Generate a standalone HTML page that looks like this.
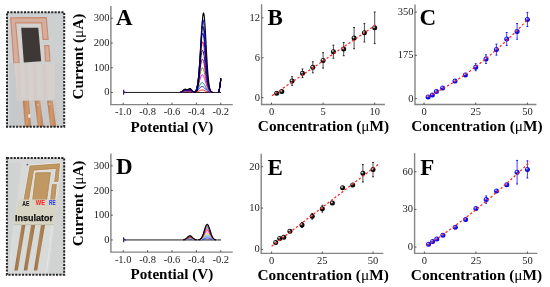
<!DOCTYPE html>
<html><head><meta charset="utf-8"><style>
html,body{margin:0;padding:0;background:#fff;width:550px;height:287px;overflow:hidden}
svg{display:block}
.tk{font-family:"Liberation Serif",serif;font-size:10.5px;fill:#222}
.ti{font-family:"Liberation Serif",serif;font-size:15px;font-weight:bold;fill:#000}
.lt{font-family:"Liberation Serif",serif;font-size:23px;font-weight:bold;fill:#000}
</style></head><body>
<svg width="550" height="287" viewBox="0 0 550 287">
<defs>
<radialGradient id="gk" cx="0.42" cy="0.42" r="0.58" fx="0.36" fy="0.34"><stop offset="0" stop-color="#ffffff"/><stop offset="0.22" stop-color="#a0a0a0"/><stop offset="0.45" stop-color="#181818"/><stop offset="1" stop-color="#000"/></radialGradient>
<radialGradient id="gb" cx="0.42" cy="0.42" r="0.58" fx="0.36" fy="0.34"><stop offset="0" stop-color="#ffffff"/><stop offset="0.2" stop-color="#8888ff"/><stop offset="0.45" stop-color="#1a1aff"/><stop offset="1" stop-color="#0000d8"/></radialGradient>
<linearGradient id="lead1" x1="0" y1="0" x2="1" y2="0"><stop offset="0" stop-color="#b67a52"/><stop offset="0.5" stop-color="#d29a70"/><stop offset="1" stop-color="#b97d55"/></linearGradient>
<linearGradient id="lead2" x1="0" y1="0" x2="1" y2="0"><stop offset="0" stop-color="#977046"/><stop offset="0.5" stop-color="#b28656"/><stop offset="1" stop-color="#9a7248"/></linearGradient>
<filter id="bl" x="-5%" y="-5%" width="110%" height="110%"><feGaussianBlur stdDeviation="0.75"/></filter>
</defs>
<g>
<rect x="7" y="12.3" width="57.2" height="114.4" fill="#c6c8c9"/>
<g filter="url(#bl)">
<polygon points="8,13 64,13 64,63 8,63" fill="#cdd0d0"/>
<polygon points="55,63 64,63 64,126 57,126" fill="#caccce"/>
<polygon points="8,13 9.5,13 9.5,126 8,126" fill="#d6d9da"/>
<polygon points="16,23 42,23 44,62 18,63" fill="#d3d2ce"/>
<polygon points="10.7,17.9 46.3,17.7 48.1,39.3 43.0,39.3 41.6,22.8 15.6,22.8 19.2,63 13.8,63" fill="#d6ae9f" stroke="#c98a6e" stroke-width="1.15"/>
<polygon points="44.8,45.6 48.8,45.6 50,61 45.4,61" fill="#d6ae9f" stroke="#c98a6e" stroke-width="1.15"/>
<polygon points="21.2,27.8 38.3,27.7 41.2,61.3 23.8,62.4" fill="#3c3936"/>
<polygon points="14.2,63.3 55.4,63.1 55.4,99.4 17.3,101.5" fill="#d4d0cd"/>
<polygon points="16.599999999999998,64 19.799999999999997,64 21.0,100 17.8,100" fill="#d6c6c0" opacity="0.6"/>
<polygon points="24.4,64 27.4,64 28.6,100 25.6,100" fill="#d6c6c0" opacity="0.6"/>
<polygon points="32.6,64 35.8,64 37.0,100 33.800000000000004,100" fill="#d6c6c0" opacity="0.6"/>
<polygon points="42.0,64 46.0,64 47.2,100 43.2,100" fill="#d6c6c0" opacity="0.6"/>
<polygon points="22.8,100.8 29,100.4 31.1,127 24.9,127" fill="url(#lead1)"/>
<polygon points="34.6,100.8 40.1,100.4 43.7,127 37.7,127" fill="url(#lead1)"/>
<polygon points="47.1,100.8 52.7,100.4 56.2,127 50.3,127" fill="url(#lead1)"/>
<ellipse cx="29.4" cy="116" rx="1.4" ry="2" fill="#eee4d8"/>
<circle cx="38" cy="105" r="1" fill="#e0b898"/>
<circle cx="49.5" cy="104" r="1" fill="#e0b898"/>
</g>
<rect x="7" y="12.3" width="57.2" height="114.4" fill="none" stroke="#262626" stroke-width="2" stroke-dasharray="2.1,1.3"/>
</g>
<g>
<rect x="7" y="158.2" width="58" height="116.8" fill="#d0d3d2"/>
<g filter="url(#bl)">
<polygon points="22,158 63,158 48.5,275 8.5,275" fill="#d8dad9"/>
<line x1="52.3" y1="224" x2="46.6" y2="272" stroke="#e4e6e6" stroke-width="1"/>
<line x1="14.3" y1="224" x2="9" y2="272" stroke="#e0e2e2" stroke-width="0.8"/>
<polygon points="7,158 65,158 65,163 7,163" fill="#d6d8d8"/>
<polygon points="30.0,166.0 59.6,163.8 58.0,181.5 54.6,181.5 56.3,168.4 33.6,170.2 28.6,200 24.0,200" fill="#c09862" stroke="#e9e6e4" stroke-width="2.4" stroke-linejoin="round"/>
<polygon points="52.3,184.4 56.4,184.4 54.8,199.6 50.6,199.6" fill="#c09862" stroke="#e9e6e4" stroke-width="2.4" stroke-linejoin="round"/>
<polygon points="35.8,172.8 50.5,172.6 46.8,199.6 32.6,199.8" fill="#c09862" stroke="#e9e6e4" stroke-width="2.4" stroke-linejoin="round"/>
<polygon points="30.0,166.0 59.6,163.8 58.0,181.5 54.6,181.5 56.3,168.4 33.6,170.2 28.6,200 24.0,200" fill="#c09862" stroke="#a88048" stroke-width="0.7"/>
<polygon points="52.3,184.4 56.4,184.4 54.8,199.6 50.6,199.6" fill="#c09862" stroke="#a88048" stroke-width="0.7"/>
<polygon points="35.8,172.8 50.5,172.6 46.8,199.6 32.6,199.8" fill="#c09862" stroke="#a88048" stroke-width="0.7"/>
<polygon points="18.3,199.6 58.2,199.6 54,224.6 14.1,224.6" fill="#d7d4c4"/>
<circle cx="27.4" cy="164.7" r="0.9" fill="#6a6666"/>
<line x1="14.1" y1="224.6" x2="54" y2="224.6" stroke="#bdb9a8" stroke-width="0.8"/>
<polygon points="21.6,225 25.4,225 17.9,270.6 14.3,270.6" fill="url(#lead2)"/>
<polygon points="31,225 35.2,225 27.3,270.6 23.7,270.6" fill="url(#lead2)"/>
<polygon points="40.9,225 45,225 37.3,270.6 33.8,270.6" fill="url(#lead2)"/>
</g>
<text x="22.3" y="205.7" style="font-family:'Liberation Sans',sans-serif;font-weight:bold;font-size:6.6px" textLength="7.2" lengthAdjust="spacingAndGlyphs" fill="#151515">AE</text>
<text x="35.7" y="205.3" style="font-family:'Liberation Sans',sans-serif;font-weight:bold;font-size:6.6px" textLength="9.3" lengthAdjust="spacingAndGlyphs" fill="#ff1a1a">WE</text>
<text x="48.9" y="204.6" style="font-family:'Liberation Sans',sans-serif;font-weight:bold;font-size:6.6px" textLength="6.8" lengthAdjust="spacingAndGlyphs" fill="#2233ff">RE</text>
<text x="15.1" y="220.9" style="font-family:'Liberation Sans',sans-serif;font-weight:bold;font-size:9px" fill="#111" stroke="#111" stroke-width="0.25" textLength="38" lengthAdjust="spacingAndGlyphs">Insulator</text>
<rect x="6.9" y="158" width="57.3" height="116.8" fill="none" stroke="#262626" stroke-width="2" stroke-dasharray="2.1,1.3"/>
</g>
<line x1="124.0" y1="92.45" x2="221" y2="92.45" stroke="#1a1a1a" stroke-width="1.0"/>
<path d="M123.6,89.85000000000001 L123.6,94.65 M123.6,91.45 L126,92.75" stroke="#3a1a8a" stroke-width="1.2" fill="none"/>
<polyline points="181.6,92.28 182.0,92.21 182.4,92.13 182.8,92.04 183.2,91.95 183.6,91.87 184.0,91.79 184.4,91.74 184.8,91.70 185.2,91.69 185.6,91.70 186.0,91.73 186.4,91.77 186.8,91.80 187.2,91.82 187.6,91.83 188.0,91.81 188.4,91.78 188.8,91.73 189.2,91.70 189.6,91.67 190.0,91.67 190.4,91.70 190.8,91.76 191.2,91.84 191.6,91.94 192.0,92.03 192.4,92.12 192.8,92.20 193.2,92.25" fill="none" stroke="#ff0000" stroke-width="0.95" stroke-linejoin="round"/>
<polyline points="194.8,92.26 195.2,92.22 195.6,92.15 196.0,92.07 196.4,91.97 196.8,91.84 197.2,91.70 197.6,91.55 198.0,91.37 198.4,91.19 198.8,91.00 199.2,90.81 199.6,90.62 200.0,90.44 200.4,90.29 200.8,90.16 201.2,90.06 201.6,90.00 202.0,89.98 202.4,90.00 202.8,90.05 203.2,90.13 203.6,90.24 204.0,90.38 204.4,90.54 204.8,90.71 205.2,90.88 205.6,91.06 206.0,91.24 206.4,91.41 206.8,91.57 207.2,91.71 207.6,91.84 208.0,91.95 208.4,92.05 208.8,92.14 209.2,92.21 209.6,92.26" fill="none" stroke="#ff0000" stroke-width="0.95" stroke-linejoin="round"/>
<polyline points="218.4,92.33 218.8,91.57 219.2,90.24 219.6,88.39 220.0,86.07 220.4,83.30 220.8,80.09" fill="none" stroke="#ff0000" stroke-width="0.95" stroke-linejoin="round"/>
<polyline points="181.2,92.29 181.6,92.22 182.0,92.14 182.4,92.03 182.8,91.92 183.2,91.80 183.6,91.69 184.0,91.59 184.4,91.52 184.8,91.47 185.2,91.46 185.6,91.48 186.0,91.51 186.4,91.56 186.8,91.60 187.2,91.62 187.6,91.62 188.0,91.59 188.4,91.54 188.8,91.48 189.2,91.43 189.6,91.39 190.0,91.39 190.4,91.43 190.8,91.51 191.2,91.62 191.6,91.75 192.0,91.88 192.4,92.00 192.8,92.09 193.2,92.16 193.6,92.19 194.0,92.19 194.4,92.16 194.8,92.09 195.2,91.98 195.6,91.84 196.0,91.65 196.4,91.42 196.8,91.15 197.2,90.83 197.6,90.46 198.0,90.06 198.4,89.62 198.8,89.15 199.2,88.68 199.6,88.21 200.0,87.77 200.4,87.37 200.8,87.03 201.2,86.77 201.6,86.59 202.0,86.52 202.4,86.54 202.8,86.65 203.2,86.85 203.6,87.11 204.0,87.44 204.4,87.82 204.8,88.23 205.2,88.67 205.6,89.10 206.0,89.53 206.4,89.95 206.8,90.33 207.2,90.69 207.6,91.00 208.0,91.28 208.4,91.52 208.8,91.72 209.2,91.88 209.6,92.02 210.0,92.13 210.4,92.21 210.8,92.28" fill="none" stroke="#0000ff" stroke-width="0.95" stroke-linejoin="round"/>
<polyline points="218.4,92.33 218.8,91.55 219.2,90.20 219.6,88.34 220.0,85.98 220.4,83.17 220.8,79.91" fill="none" stroke="#0000ff" stroke-width="0.95" stroke-linejoin="round"/>
<polyline points="181.2,92.25 181.6,92.17 182.0,92.06 182.4,91.94 182.8,91.80 183.2,91.65 183.6,91.52 184.0,91.39 184.4,91.30 184.8,91.25 185.2,91.23 185.6,91.25 186.0,91.29 186.4,91.34 186.8,91.39 187.2,91.42 187.6,91.41 188.0,91.37 188.4,91.31 188.8,91.23 189.2,91.16 189.6,91.11 190.0,91.11 190.4,91.17 190.8,91.27 191.2,91.40 191.6,91.56 192.0,91.73 192.4,91.88 192.8,92.00 193.2,92.08 193.6,92.12 194.0,92.12 194.4,92.06 194.8,91.96 195.2,91.80 195.6,91.59 196.0,91.31 196.4,90.96 196.8,90.53 197.2,90.02 197.6,89.43 198.0,88.77 198.4,88.05 198.8,87.27 199.2,86.47 199.6,85.67 200.0,84.90 200.4,84.19 200.8,83.57 201.2,83.09 201.6,82.75 202.0,82.58 202.4,82.58 202.8,82.74 203.2,83.05 203.6,83.48 204.0,84.03 204.4,84.66 204.8,85.36 205.2,86.09 205.6,86.84 206.0,87.57 206.4,88.28 206.8,88.94 207.2,89.54 207.6,90.07 208.0,90.54 208.4,90.93 208.8,91.27 209.2,91.54 209.6,91.76 210.0,91.94 210.4,92.08 210.8,92.18 211.2,92.26" fill="none" stroke="#008080" stroke-width="0.95" stroke-linejoin="round"/>
<polyline points="218.4,92.32 218.8,91.54 219.2,90.17 219.6,88.28 220.0,85.89 220.4,83.03 220.8,79.73" fill="none" stroke="#008080" stroke-width="0.95" stroke-linejoin="round"/>
<polyline points="180.8,92.29 181.2,92.22 181.6,92.12 182.0,91.99 182.4,91.84 182.8,91.68 183.2,91.50 183.6,91.34 184.0,91.19 184.4,91.08 184.8,91.02 185.2,91.00 185.6,91.02 186.0,91.07 186.4,91.13 186.8,91.19 187.2,91.21 187.6,91.20 188.0,91.15 188.4,91.07 188.8,90.98 189.2,90.89 189.6,90.84 190.0,90.83 190.4,90.90 190.8,91.02 191.2,91.18 191.6,91.38 192.0,91.58 192.4,91.75 192.8,91.90 193.2,91.99 193.6,92.03 194.0,92.01 194.4,91.91 194.8,91.75 195.2,91.50 195.6,91.16 196.0,90.70 196.4,90.13 196.8,89.42 197.2,88.56 197.6,87.55 198.0,86.40 198.4,85.11 198.8,83.72 199.2,82.26 199.6,80.78 200.0,79.33 200.4,77.98 200.8,76.79 201.2,75.82 201.6,75.12 202.0,74.73 202.4,74.67 202.8,74.90 203.2,75.41 203.6,76.17 204.0,77.15 204.4,78.30 204.8,79.57 205.2,80.92 205.6,82.29 206.0,83.64 206.4,84.94 206.8,86.15 207.2,87.25 207.6,88.22 208.0,89.07 208.4,89.79 208.8,90.39 209.2,90.88 209.6,91.28 210.0,91.59 210.4,91.82 210.8,92.00 211.2,92.14 211.6,92.23 212.0,92.30" fill="none" stroke="#ff00ff" stroke-width="0.95" stroke-linejoin="round"/>
<polyline points="218.4,92.32 218.8,91.53 219.2,90.14 219.6,88.22 220.0,85.80 220.4,82.90 220.8,79.55" fill="none" stroke="#ff00ff" stroke-width="0.95" stroke-linejoin="round"/>
<polyline points="180.8,92.27 181.2,92.18 181.6,92.06 182.0,91.92 182.4,91.75 182.8,91.55 183.2,91.35 183.6,91.16 184.0,91.00 184.4,90.87 184.8,90.79 185.2,90.77 185.6,90.79 186.0,90.85 186.4,90.92 186.8,90.98 187.2,91.01 187.6,91.00 188.0,90.94 188.4,90.84 188.8,90.72 189.2,90.62 189.6,90.56 190.0,90.56 190.4,90.63 190.8,90.77 191.2,90.97 191.6,91.20 192.0,91.43 192.4,91.65 192.8,91.82 193.2,91.94 193.6,91.99 194.0,91.97 194.4,91.87 194.8,91.68 195.2,91.38 195.6,90.97 196.0,90.42 196.4,89.70 196.8,88.79 197.2,87.69 197.6,86.36 198.0,84.82 198.4,83.08 198.8,81.17 199.2,79.13 199.6,77.03 200.0,74.94 200.4,72.97 200.8,71.19 201.2,69.71 201.6,68.60 202.0,67.93 202.4,67.73 202.8,67.98 203.2,68.63 203.6,69.65 204.0,71.00 204.4,72.60 204.8,74.40 205.2,76.30 205.6,78.25 206.0,80.18 206.4,82.02 206.8,83.73 207.2,85.28 207.6,86.66 208.0,87.85 208.4,88.86 208.8,89.69 209.2,90.37 209.6,90.90 210.0,91.32 210.4,91.64 210.8,91.88 211.2,92.05 211.6,92.18 212.0,92.27" fill="none" stroke="#808000" stroke-width="0.95" stroke-linejoin="round"/>
<polyline points="218.4,92.32 218.8,91.52 219.2,90.11 219.6,88.16 220.0,85.70 220.4,82.77 220.8,79.37" fill="none" stroke="#808000" stroke-width="0.95" stroke-linejoin="round"/>
<polyline points="180.4,92.32 180.8,92.24 181.2,92.14 181.6,92.01 182.0,91.84 182.4,91.65 182.8,91.43 183.2,91.20 183.6,90.99 184.0,90.80 184.4,90.65 184.8,90.56 185.2,90.53 185.6,90.56 186.0,90.63 186.4,90.71 186.8,90.78 187.2,90.81 187.6,90.79 188.0,90.72 188.4,90.60 188.8,90.47 189.2,90.35 189.6,90.28 190.0,90.28 190.4,90.36 190.8,90.52 191.2,90.75 191.6,91.02 192.0,91.29 192.4,91.54 192.8,91.74 193.2,91.89 193.6,91.96 194.0,91.94 194.4,91.84 194.8,91.63 195.2,91.30 195.6,90.83 196.0,90.18 196.4,89.32 196.8,88.22 197.2,86.84 197.6,85.17 198.0,83.19 198.4,80.91 198.8,78.37 199.2,75.62 199.6,72.74 200.0,69.84 200.4,67.04 200.8,64.49 201.2,62.30 201.6,60.62 202.0,59.52 202.4,59.08 202.8,59.30 203.2,60.09 203.6,61.42 204.0,63.21 204.4,65.39 204.8,67.84 205.2,70.47 205.6,73.16 206.0,75.82 206.4,78.36 206.8,80.73 207.2,82.86 207.6,84.75 208.0,86.37 208.4,87.74 208.8,88.86 209.2,89.77 209.6,90.48 210.0,91.03 210.4,91.44 210.8,91.75 211.2,91.97 211.6,92.13 212.0,92.24 212.4,92.31" fill="none" stroke="#800080" stroke-width="0.95" stroke-linejoin="round"/>
<polyline points="218.4,92.32 218.8,91.50 219.2,90.08 219.6,88.10 220.0,85.61 220.4,82.63 220.8,79.19" fill="none" stroke="#800080" stroke-width="0.95" stroke-linejoin="round"/>
<polyline points="180.4,92.30 180.8,92.22 181.2,92.11 181.6,91.96 182.0,91.77 182.4,91.55 182.8,91.31 183.2,91.05 183.6,90.81 184.0,90.60 184.4,90.43 184.8,90.33 185.2,90.30 185.6,90.33 186.0,90.41 186.4,90.49 186.8,90.57 187.2,90.60 187.6,90.58 188.0,90.50 188.4,90.37 188.8,90.22 189.2,90.08 189.6,90.00 190.0,90.00 190.4,90.09 190.8,90.28 191.2,90.54 191.6,90.84 192.0,91.15 192.4,91.44 192.8,91.68 193.2,91.85 193.6,91.94 194.0,91.95 194.4,91.86 194.8,91.66 195.2,91.32 195.6,90.83 196.0,90.13 196.4,89.18 196.8,87.95 197.2,86.37 197.6,84.42 198.0,82.07 198.4,79.31 198.8,76.19 199.2,72.75 199.6,69.09 200.0,65.34 200.4,61.67 200.8,58.26 201.2,55.27 201.6,52.89 202.0,51.26 202.4,50.49 202.8,50.58 203.2,51.46 203.6,53.05 204.0,55.28 204.4,58.03 204.8,61.16 205.2,64.53 205.6,67.99 206.0,71.42 206.4,74.70 206.8,77.75 207.2,80.49 207.6,82.91 208.0,84.97 208.4,86.70 208.8,88.11 209.2,89.23 209.6,90.11 210.0,90.78 210.4,91.28 210.8,91.64 211.2,91.91 211.6,92.09 212.0,92.21 212.4,92.30" fill="none" stroke="#000080" stroke-width="0.95" stroke-linejoin="round"/>
<polyline points="218.4,92.32 218.8,91.49 219.2,90.04 219.6,88.04 220.0,85.52 220.4,82.50 220.8,79.01" fill="none" stroke="#000080" stroke-width="0.95" stroke-linejoin="round"/>
<polyline points="180.4,92.29 180.8,92.19 181.2,92.07 181.6,91.90 182.0,91.70 182.4,91.46 182.8,91.19 183.2,90.90 183.6,90.63 184.0,90.40 184.4,90.22 184.8,90.11 185.2,90.07 185.6,90.10 186.0,90.18 186.4,90.28 186.8,90.36 187.2,90.40 187.6,90.37 188.0,90.28 188.4,90.13 188.8,89.96 189.2,89.81 189.6,89.72 190.0,89.72 190.4,89.82 190.8,90.03 191.2,90.32 191.6,90.66 192.0,91.01 192.4,91.34 192.8,91.61 193.2,91.82 193.6,91.94 194.0,91.97 194.4,91.91 194.8,91.73 195.2,91.41 195.6,90.92 196.0,90.21 196.4,89.24 196.8,87.93 197.2,86.23 197.6,84.07 198.0,81.42 198.4,78.27 198.8,74.62 199.2,70.53 199.6,66.11 200.0,61.50 200.4,56.91 200.8,52.56 201.2,48.68 201.6,45.49 202.0,43.21 202.4,41.97 202.8,41.86 203.2,42.74 203.6,44.56 204.0,47.19 204.4,50.51 204.8,54.33 205.2,58.47 205.6,62.75 206.0,66.99 206.4,71.04 206.8,74.80 207.2,78.18 207.6,81.13 208.0,83.64 208.4,85.73 208.8,87.43 209.2,88.76 209.6,89.80 210.0,90.58 210.4,91.15 210.8,91.57 211.2,91.86 211.6,92.07 212.0,92.21 212.4,92.30" fill="none" stroke="#ff0000" stroke-width="0.95" stroke-linejoin="round"/>
<polyline points="218.4,92.32 218.8,91.48 219.2,90.01 219.6,87.98 220.0,85.42 220.4,82.37 220.8,78.83" fill="none" stroke="#ff0000" stroke-width="0.95" stroke-linejoin="round"/>
<polyline points="180.4,92.27 180.8,92.17 181.2,92.03 181.6,91.85 182.0,91.63 182.4,91.36 182.8,91.06 183.2,90.75 183.6,90.46 184.0,90.20 184.4,90.00 184.8,89.88 185.2,89.84 185.6,89.88 186.0,89.96 186.4,90.07 186.8,90.16 187.2,90.20 187.6,90.17 188.0,90.06 188.4,89.90 188.8,89.71 189.2,89.54 189.6,89.44 190.0,89.44 190.4,89.55 190.8,89.78 191.2,90.10 191.6,90.48 192.0,90.87 192.4,91.23 192.8,91.55 193.2,91.78 193.6,91.94 194.0,92.00 194.4,91.96 194.8,91.82 195.2,91.53 195.6,91.08 196.0,90.40 196.4,89.44 196.8,88.11 197.2,86.35 197.6,84.08 198.0,81.22 198.4,77.74 198.8,73.64 199.2,68.96 199.6,63.81 200.0,58.36 200.4,52.82 200.8,47.46 201.2,42.58 201.6,38.48 202.0,35.41 202.4,33.59 202.8,33.14 203.2,33.96 203.6,35.94 204.0,38.95 204.4,42.83 204.8,47.36 205.2,52.30 205.6,57.42 206.0,62.51 206.4,67.38 206.8,71.88 207.2,75.91 207.6,79.43 208.0,82.40 208.4,84.85 208.8,86.82 209.2,88.36 209.6,89.54 210.0,90.43 210.4,91.07 210.8,91.53 211.2,91.84 211.6,92.06 212.0,92.21 212.4,92.30" fill="none" stroke="#0000ff" stroke-width="0.95" stroke-linejoin="round"/>
<polyline points="218.4,92.31 218.8,91.46 219.2,89.98 219.6,87.92 220.0,85.33 220.4,82.24 220.8,78.65" fill="none" stroke="#0000ff" stroke-width="0.95" stroke-linejoin="round"/>
<polyline points="180.4,92.25 180.8,92.15 181.2,92.00 181.6,91.80 182.0,91.55 182.4,91.26 182.8,90.94 183.2,90.60 183.6,90.28 184.0,90.00 184.4,89.78 184.8,89.65 185.2,89.61 185.6,89.65 186.0,89.74 186.4,89.86 186.8,89.95 187.2,90.00 187.6,89.96 188.0,89.84 188.4,89.66 188.8,89.46 189.2,89.27 189.6,89.16 190.0,89.16 190.4,89.29 190.8,89.54 191.2,89.89 191.6,90.30 192.0,90.73 192.4,91.13 192.8,91.48 193.2,91.75 193.6,91.94 194.0,92.03 194.4,92.03 194.8,91.93 195.2,91.70 195.6,91.30 196.0,90.70 196.4,89.81 196.8,88.56 197.2,86.85 197.6,84.59 198.0,81.69 198.4,78.08 198.8,73.73 199.2,68.68 199.6,63.00 200.0,56.87 200.4,50.53 200.8,44.29 201.2,38.48 201.6,33.47 202.0,29.58 202.4,27.10 202.8,26.20 203.2,26.85 203.6,28.86 204.0,32.13 204.4,36.44 204.8,41.55 205.2,47.18 205.6,53.04 206.0,58.87 206.4,64.44 206.8,69.59 207.2,74.19 207.6,78.17 208.0,81.52 208.4,84.26 208.8,86.45 209.2,88.14 209.6,89.43 210.0,90.37 210.4,91.05 210.8,91.53 211.2,91.86 211.6,92.08 212.0,92.22 212.4,92.31" fill="none" stroke="#000080" stroke-width="0.95" stroke-linejoin="round"/>
<polyline points="218.4,92.31 218.8,91.45 219.2,89.95 219.6,87.86 220.0,85.24 220.4,82.10 220.8,78.47" fill="none" stroke="#000080" stroke-width="0.95" stroke-linejoin="round"/>
<polyline points="180.0,92.32 180.4,92.24 180.8,92.12 181.2,91.96 181.6,91.75 182.0,91.48 182.4,91.17 182.8,90.82 183.2,90.45 183.6,90.10 184.0,89.80 184.4,89.57 184.8,89.42 185.2,89.38 185.6,89.42 186.0,89.52 186.4,89.65 186.8,89.75 187.2,89.79 187.6,89.75 188.0,89.62 188.4,89.43 188.8,89.21 189.2,89.01 189.6,88.88 190.0,88.88 190.4,89.02 190.8,89.29 191.2,89.67 191.6,90.12 192.0,90.58 192.4,91.03 192.8,91.41 193.2,91.71 193.6,91.93 194.0,92.05 194.4,92.09 194.8,92.03 195.2,91.85 195.6,91.53 196.0,91.01 196.4,90.22 196.8,89.08 197.2,87.47 197.6,85.30 198.0,82.43 198.4,78.79 198.8,74.30 199.2,68.97 199.6,62.86 200.0,56.13 200.4,49.04 200.8,41.90 201.2,35.12 201.6,29.13 202.0,24.33 202.4,21.07 202.8,19.60 203.2,19.96 203.6,21.94 204.0,25.40 204.4,30.12 204.8,35.80 205.2,42.11 205.6,48.72 206.0,55.31 206.4,61.61 206.8,67.42 207.2,72.58 207.6,77.04 208.0,80.76 208.4,83.78 208.8,86.16 209.2,87.99 209.6,89.36 210.0,90.36 210.4,91.06 210.8,91.55 211.2,91.88 211.6,92.10 212.0,92.24 212.4,92.32" fill="none" stroke="#0000ff" stroke-width="0.95" stroke-linejoin="round"/>
<polyline points="218.4,92.31 218.8,91.44 219.2,89.91 219.6,87.80 220.0,85.15 220.4,81.97 220.8,78.29" fill="none" stroke="#0000ff" stroke-width="0.95" stroke-linejoin="round"/>
<polyline points="180.0,92.31 180.4,92.22 180.8,92.10 181.2,91.92 181.6,91.69 182.0,91.41 182.4,91.07 182.8,90.69 183.2,90.30 183.6,89.93 184.0,89.60 184.4,89.35 184.8,89.20 185.2,89.15 185.6,89.19 186.0,89.30 186.4,89.43 186.8,89.54 187.2,89.59 187.6,89.55 188.0,89.41 188.4,89.19 188.8,88.95 189.2,88.74 189.6,88.60 190.0,88.60 190.4,88.75 190.8,89.04 191.2,89.45 191.6,89.94 192.0,90.44 192.4,90.92 192.8,91.34 193.2,91.68 193.6,91.93 194.0,92.10 194.4,92.20 194.8,92.23 195.2,92.19 195.6,92.07 196.0,91.83 196.4,91.44 196.8,90.83 197.2,89.91 197.6,88.57 198.0,86.69 198.4,84.13 198.8,80.75 199.2,76.46 199.6,71.19 200.0,64.97 200.4,57.89 200.8,50.18 201.2,42.16 201.6,34.27 202.0,26.97 202.4,20.79 202.8,16.17 203.2,13.47 203.6,12.91 204.0,14.32 204.4,17.51 204.8,22.26 205.2,28.26 205.6,35.12 206.0,42.46 206.4,49.88 206.8,57.06 207.2,63.71 207.6,69.67 208.0,74.81 208.4,79.12 208.8,82.61 209.2,85.36 209.6,87.46 210.0,89.02 210.4,90.15 210.8,90.94 211.2,91.48 211.6,91.85 212.0,92.08 212.4,92.23 212.8,92.32" fill="none" stroke="#000000" stroke-width="1.1" stroke-linejoin="round"/>
<polyline points="218.4,92.31 218.8,91.43 219.2,89.88 219.6,87.75 220.0,85.05 220.4,81.84 220.8,78.11" fill="none" stroke="#000000" stroke-width="1.1" stroke-linejoin="round"/>
<line x1="110.9" y1="6" x2="110.9" y2="104.6" stroke="#848484" stroke-width="1.4"/>
<line x1="110.9" y1="92.45" x2="112.80000000000001" y2="92.45" stroke="#444" stroke-width="0.9"/>
<text x="109.4" y="95.45" class="tk" text-anchor="end">0</text>
<line x1="110.9" y1="67.73" x2="112.80000000000001" y2="67.73" stroke="#444" stroke-width="0.9"/>
<text x="109.4" y="70.73" class="tk" text-anchor="end">100</text>
<line x1="110.9" y1="43.01" x2="112.80000000000001" y2="43.01" stroke="#444" stroke-width="0.9"/>
<text x="109.4" y="46.01" class="tk" text-anchor="end">200</text>
<line x1="110.9" y1="18.29" x2="112.80000000000001" y2="18.29" stroke="#444" stroke-width="0.9"/>
<text x="109.4" y="21.29" class="tk" text-anchor="end">300</text>
<line x1="110.2" y1="104.6" x2="232.8" y2="104.6" stroke="#848484" stroke-width="1.4"/>
<line x1="123.20" y1="104.6" x2="123.20" y2="102.69999999999999" stroke="#444" stroke-width="0.9"/>
<text x="123.20" y="115.3" class="tk" text-anchor="middle">-1.0</text>
<line x1="147.60" y1="104.6" x2="147.60" y2="102.69999999999999" stroke="#444" stroke-width="0.9"/>
<text x="147.60" y="115.3" class="tk" text-anchor="middle">-0.8</text>
<line x1="172.00" y1="104.6" x2="172.00" y2="102.69999999999999" stroke="#444" stroke-width="0.9"/>
<text x="172.00" y="115.3" class="tk" text-anchor="middle">-0.6</text>
<line x1="196.40" y1="104.6" x2="196.40" y2="102.69999999999999" stroke="#444" stroke-width="0.9"/>
<text x="196.40" y="115.3" class="tk" text-anchor="middle">-0.4</text>
<line x1="220.80" y1="104.6" x2="220.80" y2="102.69999999999999" stroke="#444" stroke-width="0.9"/>
<text x="220.80" y="115.3" class="tk" text-anchor="middle">-0.2</text>
<text x="130.6" y="131.5" class="ti" textLength="82.6" lengthAdjust="spacingAndGlyphs">Potential (V)</text>
<text transform="translate(82.9,56.6) rotate(-90)" class="ti" text-anchor="middle" textLength="85.6" lengthAdjust="spacingAndGlyphs">Current (<tspan font-weight="normal">μ</tspan>A)</text>
<text x="116" y="24.8" class="lt">A</text>
<line x1="124.0" y1="239.95" x2="221" y2="239.95" stroke="#1a1a1a" stroke-width="1.0"/>
<path d="M123.6,237.35 L123.6,242.14999999999998 M123.6,238.95 L126,240.25" stroke="#3a1a8a" stroke-width="1.2" fill="none"/>
<polyline points="184.8,239.77 185.2,239.71 185.6,239.64 186.0,239.55 186.4,239.45 186.8,239.34 187.2,239.23 187.6,239.11 188.0,239.00 188.4,238.90 188.8,238.82 189.2,238.76 189.6,238.72 190.0,238.71 190.4,238.74 190.8,238.79 191.2,238.86 191.6,238.95 192.0,239.06 192.4,239.17 192.8,239.29 193.2,239.40 193.6,239.50 194.0,239.59 194.4,239.67 194.8,239.74 195.2,239.79" fill="none" stroke="#0000ff" stroke-width="0.9" stroke-linejoin="round"/>
<polyline points="200.8,239.78 201.2,239.72 201.6,239.64 202.0,239.55 202.4,239.45 202.8,239.32 203.2,239.19 203.6,239.03 204.0,238.87 204.4,238.71 204.8,238.55 205.2,238.39 205.6,238.25 206.0,238.13 206.4,238.05 206.8,237.99 207.2,237.97 207.6,237.99 208.0,238.05 208.4,238.13 208.8,238.25 209.2,238.39 209.6,238.55 210.0,238.71 210.4,238.87 210.8,239.03 211.2,239.19 211.6,239.32 212.0,239.45 212.4,239.55 212.8,239.64 213.2,239.72 213.6,239.78" fill="none" stroke="#0000ff" stroke-width="0.9" stroke-linejoin="round"/>
<polyline points="184.4,239.79 184.8,239.73 185.2,239.66 185.6,239.57 186.0,239.47 186.4,239.35 186.8,239.22 187.2,239.08 187.6,238.95 188.0,238.81 188.4,238.69 188.8,238.59 189.2,238.52 189.6,238.48 190.0,238.47 190.4,238.49 190.8,238.55 191.2,238.64 191.6,238.75 192.0,238.88 192.4,239.02 192.8,239.15 193.2,239.29 193.6,239.41 194.0,239.52 194.4,239.62 194.8,239.70 195.2,239.76" fill="none" stroke="#8080ff" stroke-width="0.9" stroke-linejoin="round"/>
<polyline points="200.0,239.79 200.4,239.73 200.8,239.65 201.2,239.54 201.6,239.41 202.0,239.26 202.4,239.07 202.8,238.86 203.2,238.61 203.6,238.35 204.0,238.07 204.4,237.78 204.8,237.49 205.2,237.22 205.6,236.98 206.0,236.77 206.4,236.62 206.8,236.52 207.2,236.49 207.6,236.52 208.0,236.62 208.4,236.77 208.8,236.98 209.2,237.22 209.6,237.49 210.0,237.78 210.4,238.07 210.8,238.35 211.2,238.61 211.6,238.86 212.0,239.07 212.4,239.26 212.8,239.41 213.2,239.54 213.6,239.65 214.0,239.73 214.4,239.79" fill="none" stroke="#8080ff" stroke-width="0.9" stroke-linejoin="round"/>
<polyline points="184.4,239.77 184.8,239.70 185.2,239.61 185.6,239.51 186.0,239.39 186.4,239.25 186.8,239.10 187.2,238.94 187.6,238.78 188.0,238.63 188.4,238.48 188.8,238.37 189.2,238.28 189.6,238.23 190.0,238.22 190.4,238.25 190.8,238.32 191.2,238.42 191.6,238.55 192.0,238.70 192.4,238.86 192.8,239.02 193.2,239.18 193.6,239.32 194.0,239.45 194.4,239.56 194.8,239.66 195.2,239.73 195.6,239.79" fill="none" stroke="#00c0c0" stroke-width="0.9" stroke-linejoin="round"/>
<polyline points="199.6,239.79 200.0,239.72 200.4,239.63 200.8,239.52 201.2,239.37 201.6,239.18 202.0,238.96 202.4,238.69 202.8,238.39 203.2,238.04 203.6,237.66 204.0,237.26 204.4,236.85 204.8,236.44 205.2,236.05 205.6,235.70 206.0,235.41 206.4,235.19 206.8,235.05 207.2,235.01 207.6,235.05 208.0,235.19 208.4,235.41 208.8,235.70 209.2,236.05 209.6,236.44 210.0,236.85 210.4,237.26 210.8,237.66 211.2,238.04 211.6,238.39 212.0,238.69 212.4,238.96 212.8,239.18 213.2,239.37 213.6,239.52 214.0,239.63 214.4,239.72 214.8,239.79" fill="none" stroke="#00c0c0" stroke-width="0.9" stroke-linejoin="round"/>
<polyline points="184.0,239.80 184.4,239.74 184.8,239.66 185.2,239.56 185.6,239.45 186.0,239.31 186.4,239.15 186.8,238.98 187.2,238.80 187.6,238.61 188.0,238.44 188.4,238.28 188.8,238.14 189.2,238.04 189.6,237.99 190.0,237.97 190.4,238.01 190.8,238.09 191.2,238.20 191.6,238.35 192.0,238.52 192.4,238.70 192.8,238.89 193.2,239.07 193.6,239.23 194.0,239.38 194.4,239.51 194.8,239.61 195.2,239.70 195.6,239.77" fill="none" stroke="#e0e000" stroke-width="0.9" stroke-linejoin="round"/>
<polyline points="199.2,239.80 199.6,239.74 200.0,239.65 200.4,239.54 200.8,239.39 201.2,239.19 201.6,238.95 202.0,238.66 202.4,238.32 202.8,237.92 203.2,237.47 203.6,236.98 204.0,236.45 204.4,235.92 204.8,235.39 205.2,234.88 205.6,234.43 206.0,234.05 206.4,233.76 206.8,233.58 207.2,233.52 207.6,233.58 208.0,233.76 208.4,234.05 208.8,234.43 209.2,234.88 209.6,235.39 210.0,235.92 210.4,236.45 210.8,236.98 211.2,237.47 211.6,237.92 212.0,238.32 212.4,238.66 212.8,238.95 213.2,239.19 213.6,239.39 214.0,239.54 214.4,239.66 214.8,239.74 215.2,239.81" fill="none" stroke="#e0e000" stroke-width="0.9" stroke-linejoin="round"/>
<polyline points="184.0,239.78 184.4,239.71 184.8,239.63 185.2,239.52 185.6,239.38 186.0,239.23 186.4,239.05 186.8,238.86 187.2,238.65 187.6,238.45 188.0,238.25 188.4,238.07 188.8,237.92 189.2,237.80 189.6,237.74 190.0,237.73 190.4,237.77 190.8,237.85 191.2,237.99 191.6,238.15 192.0,238.34 192.4,238.55 192.8,238.76 193.2,238.96 193.6,239.14 194.0,239.31 194.4,239.45 194.8,239.57 195.2,239.67 195.6,239.75 196.0,239.80" fill="none" stroke="#ff80ff" stroke-width="0.9" stroke-linejoin="round"/>
<polyline points="199.2,239.77 199.6,239.69 200.0,239.59 200.4,239.44 200.8,239.26 201.2,239.02 201.6,238.72 202.0,238.36 202.4,237.94 202.8,237.45 203.2,236.89 203.6,236.29 204.0,235.65 204.4,234.99 204.8,234.33 205.2,233.71 205.6,233.16 206.0,232.69 206.4,232.33 206.8,232.11 207.2,232.04 207.6,232.11 208.0,232.33 208.4,232.69 208.8,233.16 209.2,233.71 209.6,234.33 210.0,234.99 210.4,235.65 210.8,236.29 211.2,236.89 211.6,237.45 212.0,237.94 212.4,238.37 212.8,238.72 213.2,239.02 213.6,239.26 214.0,239.44 214.4,239.59 214.8,239.69 215.2,239.77" fill="none" stroke="#ff80ff" stroke-width="0.9" stroke-linejoin="round"/>
<polyline points="184.0,239.76 184.4,239.69 184.8,239.59 185.2,239.47 185.6,239.32 186.0,239.15 186.4,238.95 186.8,238.74 187.2,238.51 187.6,238.28 188.0,238.06 188.4,237.86 188.8,237.69 189.2,237.57 189.6,237.49 190.0,237.48 190.4,237.52 190.8,237.62 191.2,237.77 191.6,237.95 192.0,238.17 192.4,238.39 192.8,238.62 193.2,238.85 193.6,239.05 194.0,239.24 194.4,239.40 194.8,239.53 195.2,239.64 195.6,239.72 196.0,239.79" fill="none" stroke="#ff0000" stroke-width="0.9" stroke-linejoin="round"/>
<polyline points="198.8,239.80 199.2,239.74 199.6,239.64 200.0,239.52 200.4,239.35 200.8,239.13 201.2,238.84 201.6,238.49 202.0,238.07 202.4,237.56 202.8,236.98 203.2,236.32 203.6,235.60 204.0,234.84 204.4,234.06 204.8,233.28 205.2,232.54 205.6,231.88 206.0,231.33 206.4,230.91 206.8,230.65 207.2,230.56 207.6,230.65 208.0,230.91 208.4,231.33 208.8,231.88 209.2,232.54 209.6,233.28 210.0,234.06 210.4,234.84 210.8,235.60 211.2,236.32 211.6,236.98 212.0,237.56 212.4,238.07 212.8,238.49 213.2,238.85 213.6,239.13 214.0,239.35 214.4,239.52 214.8,239.65 215.2,239.74 215.6,239.81" fill="none" stroke="#ff0000" stroke-width="0.9" stroke-linejoin="round"/>
<polyline points="183.6,239.79 184.0,239.72 184.4,239.63 184.8,239.52 185.2,239.37 185.6,239.19 186.0,238.99 186.4,238.75 186.8,238.49 187.2,238.22 187.6,237.94 188.0,237.68 188.4,237.44 188.8,237.24 189.2,237.09 189.6,237.00 190.0,236.99 190.4,237.04 190.8,237.16 191.2,237.33 191.6,237.55 192.0,237.81 192.4,238.08 192.8,238.36 193.2,238.62 193.6,238.87 194.0,239.09 194.4,239.29 194.8,239.45 195.2,239.58 195.6,239.68 196.0,239.75" fill="none" stroke="#ff00ff" stroke-width="0.9" stroke-linejoin="round"/>
<polyline points="198.8,239.78 199.2,239.70 199.6,239.60 200.0,239.45 200.4,239.25 200.8,239.00 201.2,238.67 201.6,238.26 202.0,237.77 202.4,237.19 202.8,236.51 203.2,235.75 203.6,234.92 204.0,234.03 204.4,233.13 204.8,232.23 205.2,231.38 205.6,230.61 206.0,229.97 206.4,229.48 206.8,229.18 207.2,229.07 207.6,229.18 208.0,229.48 208.4,229.97 208.8,230.61 209.2,231.38 209.6,232.23 210.0,233.13 210.4,234.03 210.8,234.92 211.2,235.75 211.6,236.51 212.0,237.19 212.4,237.77 212.8,238.26 213.2,238.67 213.6,239.00 214.0,239.25 214.4,239.45 214.8,239.60 215.2,239.71 215.6,239.79" fill="none" stroke="#ff00ff" stroke-width="0.9" stroke-linejoin="round"/>
<polyline points="183.6,239.78 184.0,239.71 184.4,239.61 184.8,239.48 185.2,239.32 185.6,239.13 186.0,238.91 186.4,238.65 186.8,238.37 187.2,238.08 187.6,237.78 188.0,237.49 188.4,237.23 188.8,237.01 189.2,236.85 189.6,236.76 190.0,236.74 190.4,236.80 190.8,236.92 191.2,237.11 191.6,237.35 192.0,237.63 192.4,237.93 192.8,238.22 193.2,238.51 193.6,238.78 194.0,239.02 194.4,239.23 194.8,239.40 195.2,239.55 195.6,239.66 196.0,239.74 196.4,239.80" fill="none" stroke="#00a000" stroke-width="0.9" stroke-linejoin="round"/>
<polyline points="198.8,239.75 199.2,239.67 199.6,239.55 200.0,239.38 200.4,239.16 200.8,238.87 201.2,238.50 201.6,238.03 202.0,237.47 202.4,236.81 202.8,236.04 203.2,235.18 203.6,234.23 204.0,233.23 204.4,232.19 204.8,231.17 205.2,230.21 205.6,229.34 206.0,228.60 206.4,228.05 206.8,227.71 207.2,227.59 207.6,227.71 208.0,228.05 208.4,228.60 208.8,229.34 209.2,230.21 209.6,231.17 210.0,232.19 210.4,233.23 210.8,234.23 211.2,235.18 211.6,236.04 212.0,236.81 212.4,237.47 212.8,238.03 213.2,238.50 213.6,238.87 214.0,239.16 214.4,239.38 214.8,239.55 215.2,239.67 215.6,239.76" fill="none" stroke="#00a000" stroke-width="0.9" stroke-linejoin="round"/>
<polyline points="183.6,239.75 184.0,239.67 184.4,239.55 184.8,239.41 185.2,239.23 185.6,239.01 186.0,238.75 186.4,238.45 186.8,238.13 187.2,237.79 187.6,237.44 188.0,237.11 188.4,236.81 188.8,236.56 189.2,236.37 189.6,236.27 190.0,236.24 190.4,236.31 190.8,236.46 191.2,236.68 191.6,236.96 192.0,237.27 192.4,237.61 192.8,237.96 193.2,238.29 193.6,238.60 194.0,238.88 194.4,239.12 194.8,239.32 195.2,239.48 195.6,239.61 196.0,239.71 196.4,239.77" fill="none" stroke="#800080" stroke-width="0.9" stroke-linejoin="round"/>
<polyline points="198.4,239.79 198.8,239.73 199.2,239.64 199.6,239.50 200.0,239.31 200.4,239.06 200.8,238.74 201.2,238.32 201.6,237.80 202.0,237.18 202.4,236.43 202.8,235.57 203.2,234.60 203.6,233.54 204.0,232.42 204.4,231.26 204.8,230.12 205.2,229.04 205.6,228.06 206.0,227.24 206.4,226.62 206.8,226.24 207.2,226.11 207.6,226.24 208.0,226.62 208.4,227.24 208.8,228.06 209.2,229.04 209.6,230.12 210.0,231.26 210.4,232.42 210.8,233.54 211.2,234.60 211.6,235.57 212.0,236.43 212.4,237.18 212.8,237.80 213.2,238.32 213.6,238.74 214.0,239.06 214.4,239.32 214.8,239.50 215.2,239.64 215.6,239.74 216.0,239.81" fill="none" stroke="#800080" stroke-width="0.9" stroke-linejoin="round"/>
<polyline points="183.2,239.80 183.6,239.73 184.0,239.63 184.4,239.50 184.8,239.34 185.2,239.13 185.6,238.88 186.0,238.59 186.4,238.25 186.8,237.89 187.2,237.50 187.6,237.11 188.0,236.73 188.4,236.39 188.8,236.11 189.2,235.90 189.6,235.78 190.0,235.75 190.4,235.82 190.8,235.99 191.2,236.24 191.6,236.56 192.0,236.92 192.4,237.30 192.8,237.69 193.2,238.07 193.6,238.42 194.0,238.74 194.4,239.01 194.8,239.24 195.2,239.42 195.6,239.56 196.0,239.67 196.4,239.75 196.8,239.80" fill="none" stroke="#000000" stroke-width="1.15" stroke-linejoin="round"/>
<polyline points="198.4,239.77 198.8,239.70 199.2,239.60 199.6,239.44 200.0,239.23 200.4,238.95 200.8,238.59 201.2,238.12 201.6,237.54 202.0,236.83 202.4,235.99 202.8,235.02 203.2,233.93 203.6,232.74 204.0,231.48 204.4,230.18 204.8,228.89 205.2,227.67 205.6,226.58 206.0,225.65 206.4,224.96 206.8,224.52 207.2,224.38 207.6,224.52 208.0,224.96 208.4,225.65 208.8,226.58 209.2,227.67 209.6,228.89 210.0,230.18 210.4,231.48 210.8,232.74 211.2,233.93 211.6,235.02 212.0,235.99 212.4,236.83 212.8,237.54 213.2,238.12 213.6,238.59 214.0,238.95 214.4,239.24 214.8,239.45 215.2,239.60 215.6,239.72 216.0,239.79" fill="none" stroke="#000000" stroke-width="1.15" stroke-linejoin="round"/>
<line x1="110.9" y1="153.5" x2="110.9" y2="252.1" stroke="#848484" stroke-width="1.4"/>
<line x1="110.9" y1="239.95" x2="112.80000000000001" y2="239.95" stroke="#444" stroke-width="0.9"/>
<text x="109.4" y="242.95" class="tk" text-anchor="end">0</text>
<line x1="110.9" y1="215.23" x2="112.80000000000001" y2="215.23" stroke="#444" stroke-width="0.9"/>
<text x="109.4" y="218.23" class="tk" text-anchor="end">100</text>
<line x1="110.9" y1="190.51" x2="112.80000000000001" y2="190.51" stroke="#444" stroke-width="0.9"/>
<text x="109.4" y="193.51" class="tk" text-anchor="end">200</text>
<line x1="110.9" y1="165.79" x2="112.80000000000001" y2="165.79" stroke="#444" stroke-width="0.9"/>
<text x="109.4" y="168.79" class="tk" text-anchor="end">300</text>
<line x1="110.2" y1="252.1" x2="232.8" y2="252.1" stroke="#848484" stroke-width="1.4"/>
<line x1="123.20" y1="252.1" x2="123.20" y2="250.2" stroke="#444" stroke-width="0.9"/>
<text x="123.20" y="262.8" class="tk" text-anchor="middle">-1.0</text>
<line x1="147.60" y1="252.1" x2="147.60" y2="250.2" stroke="#444" stroke-width="0.9"/>
<text x="147.60" y="262.8" class="tk" text-anchor="middle">-0.8</text>
<line x1="172.00" y1="252.1" x2="172.00" y2="250.2" stroke="#444" stroke-width="0.9"/>
<text x="172.00" y="262.8" class="tk" text-anchor="middle">-0.6</text>
<line x1="196.40" y1="252.1" x2="196.40" y2="250.2" stroke="#444" stroke-width="0.9"/>
<text x="196.40" y="262.8" class="tk" text-anchor="middle">-0.4</text>
<line x1="220.80" y1="252.1" x2="220.80" y2="250.2" stroke="#444" stroke-width="0.9"/>
<text x="220.80" y="262.8" class="tk" text-anchor="middle">-0.2</text>
<text x="130.6" y="279.0" class="ti" textLength="82.6" lengthAdjust="spacingAndGlyphs">Potential (V)</text>
<text transform="translate(82.9,203.40675) rotate(-90)" class="ti" text-anchor="middle" textLength="85.6" lengthAdjust="spacingAndGlyphs">Current (<tspan font-weight="normal">μ</tspan>A)</text>
<text x="116" y="174.2" class="lt">D</text>
<line x1="261.6" y1="4.2" x2="261.6" y2="104.5" stroke="#848484" stroke-width="1.4"/>
<line x1="261.6" y1="97.60" x2="263.5" y2="97.60" stroke="#444" stroke-width="0.9"/>
<text x="260.1" y="100.60" class="tk" text-anchor="end">0</text>
<line x1="261.6" y1="57.70" x2="263.5" y2="57.70" stroke="#444" stroke-width="0.9"/>
<text x="260.1" y="60.70" class="tk" text-anchor="end">6</text>
<line x1="261.6" y1="17.80" x2="263.5" y2="17.80" stroke="#444" stroke-width="0.9"/>
<text x="260.1" y="20.80" class="tk" text-anchor="end">12</text>
<line x1="260.90000000000003" y1="104.5" x2="384.9" y2="104.5" stroke="#848484" stroke-width="1.4"/>
<line x1="271.50" y1="104.5" x2="271.50" y2="102.6" stroke="#444" stroke-width="0.9"/>
<text x="271.50" y="114.9" class="tk" text-anchor="middle">0</text>
<line x1="323.10" y1="104.5" x2="323.10" y2="102.6" stroke="#444" stroke-width="0.9"/>
<text x="323.10" y="114.9" class="tk" text-anchor="middle">5</text>
<line x1="374.70" y1="104.5" x2="374.70" y2="102.6" stroke="#444" stroke-width="0.9"/>
<text x="374.70" y="114.9" class="tk" text-anchor="middle">10</text>
<text x="257.8" y="130.7" class="ti" textLength="131.4" lengthAdjust="spacingAndGlyphs">Concentration (<tspan font-weight="normal">μ</tspan>M)</text>
<text x="267.5" y="25.1" class="lt">B</text>
<line x1="276.7" y1="92.7" x2="276.7" y2="93.9" stroke="#222" stroke-width="0.8"/>
<line x1="275.8" y1="92.7" x2="277.6" y2="92.7" stroke="#222" stroke-width="1"/>
<line x1="275.8" y1="93.9" x2="277.6" y2="93.9" stroke="#222" stroke-width="1"/>
<line x1="281.8" y1="91.0" x2="281.8" y2="92.2" stroke="#222" stroke-width="0.8"/>
<line x1="280.9" y1="91.0" x2="282.7" y2="91.0" stroke="#222" stroke-width="1"/>
<line x1="280.9" y1="92.2" x2="282.7" y2="92.2" stroke="#222" stroke-width="1"/>
<line x1="292.1" y1="76.7" x2="292.1" y2="85.3" stroke="#222" stroke-width="0.8"/>
<line x1="291.2" y1="76.7" x2="293.0" y2="76.7" stroke="#222" stroke-width="1"/>
<line x1="291.2" y1="85.3" x2="293.0" y2="85.3" stroke="#222" stroke-width="1"/>
<line x1="302.5" y1="69.0" x2="302.5" y2="77.6" stroke="#222" stroke-width="0.8"/>
<line x1="301.6" y1="69.0" x2="303.4" y2="69.0" stroke="#222" stroke-width="1"/>
<line x1="301.6" y1="77.6" x2="303.4" y2="77.6" stroke="#222" stroke-width="1"/>
<line x1="312.8" y1="61.8" x2="312.8" y2="72.8" stroke="#222" stroke-width="0.8"/>
<line x1="311.9" y1="61.8" x2="313.7" y2="61.8" stroke="#222" stroke-width="1"/>
<line x1="311.9" y1="72.8" x2="313.7" y2="72.8" stroke="#222" stroke-width="1"/>
<line x1="323.1" y1="52.7" x2="323.1" y2="68.1" stroke="#222" stroke-width="0.8"/>
<line x1="322.2" y1="52.7" x2="324.0" y2="52.7" stroke="#222" stroke-width="1"/>
<line x1="322.2" y1="68.1" x2="324.0" y2="68.1" stroke="#222" stroke-width="1"/>
<line x1="333.4" y1="45.2" x2="333.4" y2="58.2" stroke="#222" stroke-width="0.8"/>
<line x1="332.5" y1="45.2" x2="334.3" y2="45.2" stroke="#222" stroke-width="1"/>
<line x1="332.5" y1="58.2" x2="334.3" y2="58.2" stroke="#222" stroke-width="1"/>
<line x1="343.7" y1="42.5" x2="343.7" y2="55.7" stroke="#222" stroke-width="0.8"/>
<line x1="342.8" y1="42.5" x2="344.6" y2="42.5" stroke="#222" stroke-width="1"/>
<line x1="342.8" y1="55.7" x2="344.6" y2="55.7" stroke="#222" stroke-width="1"/>
<line x1="354.1" y1="27.5" x2="354.1" y2="48.7" stroke="#222" stroke-width="0.8"/>
<line x1="353.2" y1="27.5" x2="355.0" y2="27.5" stroke="#222" stroke-width="1"/>
<line x1="353.2" y1="48.7" x2="355.0" y2="48.7" stroke="#222" stroke-width="1"/>
<line x1="364.4" y1="23.6" x2="364.4" y2="42.0" stroke="#222" stroke-width="0.8"/>
<line x1="363.5" y1="23.6" x2="365.3" y2="23.6" stroke="#222" stroke-width="1"/>
<line x1="363.5" y1="42.0" x2="365.3" y2="42.0" stroke="#222" stroke-width="1"/>
<line x1="374.7" y1="12.0" x2="374.7" y2="43.6" stroke="#222" stroke-width="0.8"/>
<line x1="373.8" y1="12.0" x2="375.6" y2="12.0" stroke="#222" stroke-width="1"/>
<line x1="373.8" y1="43.6" x2="375.6" y2="43.6" stroke="#222" stroke-width="1"/>
<circle cx="276.7" cy="93.3" r="2.5" fill="url(#gk)"/>
<circle cx="281.8" cy="91.6" r="2.5" fill="url(#gk)"/>
<circle cx="292.1" cy="81.0" r="2.5" fill="url(#gk)"/>
<circle cx="302.5" cy="73.3" r="2.5" fill="url(#gk)"/>
<circle cx="312.8" cy="67.3" r="2.5" fill="url(#gk)"/>
<circle cx="323.1" cy="60.4" r="2.5" fill="url(#gk)"/>
<circle cx="333.4" cy="51.7" r="2.5" fill="url(#gk)"/>
<circle cx="343.7" cy="49.1" r="2.5" fill="url(#gk)"/>
<circle cx="354.1" cy="38.1" r="2.5" fill="url(#gk)"/>
<circle cx="364.4" cy="32.8" r="2.5" fill="url(#gk)"/>
<circle cx="374.7" cy="27.8" r="2.5" fill="url(#gk)"/>
<polyline points="272.02,95.67 274.69,93.85 277.36,92.03 280.03,90.21 282.71,88.39 285.38,86.58 288.05,84.76 290.72,82.94 293.40,81.12 296.07,79.30 298.74,77.48 301.41,75.66 304.09,73.84 306.76,72.02 309.43,70.20 312.11,68.38 314.78,66.56 317.45,64.74 320.12,62.92 322.80,61.10 325.47,59.28 328.14,57.46 330.81,55.64 333.49,53.82 336.16,52.00 338.83,50.18 341.50,48.36 344.18,46.54 346.85,44.72 349.52,42.90 352.19,41.08 354.87,39.26 357.54,37.44 360.21,35.62 362.88,33.80 365.56,31.98 368.23,30.16 370.90,28.34 373.58,26.52 376.25,24.70" fill="none" stroke="#ff2424" stroke-width="1.25" stroke-dasharray="2.3,2.1"/>
<line x1="415.0" y1="4.6" x2="415.0" y2="104.5" stroke="#848484" stroke-width="1.4"/>
<line x1="415.0" y1="98.60" x2="416.9" y2="98.60" stroke="#444" stroke-width="0.9"/>
<text x="413.5" y="101.60" class="tk" text-anchor="end">0</text>
<line x1="415.0" y1="55.36" x2="416.9" y2="55.36" stroke="#444" stroke-width="0.9"/>
<text x="413.5" y="58.36" class="tk" text-anchor="end">175</text>
<line x1="415.0" y1="12.11" x2="416.9" y2="12.11" stroke="#444" stroke-width="0.9"/>
<text x="413.5" y="15.11" class="tk" text-anchor="end">350</text>
<line x1="414.3" y1="104.5" x2="536.4" y2="104.5" stroke="#848484" stroke-width="1.4"/>
<line x1="424.00" y1="104.5" x2="424.00" y2="102.6" stroke="#444" stroke-width="0.9"/>
<text x="424.00" y="114.9" class="tk" text-anchor="middle">0</text>
<line x1="475.70" y1="104.5" x2="475.70" y2="102.6" stroke="#444" stroke-width="0.9"/>
<text x="475.70" y="114.9" class="tk" text-anchor="middle">25</text>
<line x1="527.40" y1="104.5" x2="527.40" y2="102.6" stroke="#444" stroke-width="0.9"/>
<text x="527.40" y="114.9" class="tk" text-anchor="middle">50</text>
<text x="411.2" y="130.7" class="ti" textLength="131.4" lengthAdjust="spacingAndGlyphs">Concentration (<tspan font-weight="normal">μ</tspan>M)</text>
<text x="419.6" y="25.1" class="lt">C</text>
<line x1="455.0" y1="79.6" x2="455.0" y2="82.6" stroke="#1010ff" stroke-width="0.8"/>
<line x1="454.1" y1="79.6" x2="455.9" y2="79.6" stroke="#1010ff" stroke-width="1"/>
<line x1="454.1" y1="82.6" x2="455.9" y2="82.6" stroke="#1010ff" stroke-width="1"/>
<line x1="465.4" y1="73.4" x2="465.4" y2="76.4" stroke="#1010ff" stroke-width="0.8"/>
<line x1="464.5" y1="73.4" x2="466.3" y2="73.4" stroke="#1010ff" stroke-width="1"/>
<line x1="464.5" y1="76.4" x2="466.3" y2="76.4" stroke="#1010ff" stroke-width="1"/>
<line x1="475.7" y1="63.7" x2="475.7" y2="70.7" stroke="#1010ff" stroke-width="0.8"/>
<line x1="474.8" y1="63.7" x2="476.6" y2="63.7" stroke="#1010ff" stroke-width="1"/>
<line x1="474.8" y1="70.7" x2="476.6" y2="70.7" stroke="#1010ff" stroke-width="1"/>
<line x1="486.0" y1="54.8" x2="486.0" y2="63.4" stroke="#1010ff" stroke-width="0.8"/>
<line x1="485.1" y1="54.8" x2="486.9" y2="54.8" stroke="#1010ff" stroke-width="1"/>
<line x1="485.1" y1="63.4" x2="486.9" y2="63.4" stroke="#1010ff" stroke-width="1"/>
<line x1="496.4" y1="44.1" x2="496.4" y2="55.1" stroke="#1010ff" stroke-width="0.8"/>
<line x1="495.5" y1="44.1" x2="497.3" y2="44.1" stroke="#1010ff" stroke-width="1"/>
<line x1="495.5" y1="55.1" x2="497.3" y2="55.1" stroke="#1010ff" stroke-width="1"/>
<line x1="506.7" y1="32.5" x2="506.7" y2="45.5" stroke="#1010ff" stroke-width="0.8"/>
<line x1="505.8" y1="32.5" x2="507.6" y2="32.5" stroke="#1010ff" stroke-width="1"/>
<line x1="505.8" y1="45.5" x2="507.6" y2="45.5" stroke="#1010ff" stroke-width="1"/>
<line x1="517.1" y1="23.6" x2="517.1" y2="39.2" stroke="#1010ff" stroke-width="0.8"/>
<line x1="516.2" y1="23.6" x2="518.0" y2="23.6" stroke="#1010ff" stroke-width="1"/>
<line x1="516.2" y1="39.2" x2="518.0" y2="39.2" stroke="#1010ff" stroke-width="1"/>
<line x1="527.4" y1="12.4" x2="527.4" y2="26.6" stroke="#1010ff" stroke-width="0.8"/>
<line x1="526.5" y1="12.4" x2="528.3" y2="12.4" stroke="#1010ff" stroke-width="1"/>
<line x1="526.5" y1="26.6" x2="528.3" y2="26.6" stroke="#1010ff" stroke-width="1"/>
<circle cx="428.1" cy="96.9" r="2.5" fill="url(#gb)"/>
<circle cx="432.3" cy="95.0" r="2.5" fill="url(#gb)"/>
<circle cx="436.4" cy="91.5" r="2.5" fill="url(#gb)"/>
<circle cx="442.6" cy="87.9" r="2.5" fill="url(#gb)"/>
<circle cx="455.0" cy="81.1" r="2.5" fill="url(#gb)"/>
<circle cx="465.4" cy="74.9" r="2.5" fill="url(#gb)"/>
<circle cx="475.7" cy="67.2" r="2.5" fill="url(#gb)"/>
<circle cx="486.0" cy="59.1" r="2.5" fill="url(#gb)"/>
<circle cx="496.4" cy="49.6" r="2.5" fill="url(#gb)"/>
<circle cx="506.7" cy="39.0" r="2.5" fill="url(#gb)"/>
<circle cx="517.1" cy="31.4" r="2.5" fill="url(#gb)"/>
<circle cx="527.4" cy="19.5" r="2.5" fill="url(#gb)"/>
<polyline points="427.72,96.64 430.31,95.37 432.90,94.06 435.49,92.71 438.07,91.32 440.66,89.89 443.25,88.43 445.84,86.92 448.42,85.38 451.01,83.80 453.60,82.18 456.19,80.52 458.77,78.82 461.36,77.08 463.95,75.31 466.54,73.50 469.12,71.64 471.71,69.75 474.30,67.82 476.89,65.86 479.48,63.85 482.06,61.81 484.65,59.72 487.24,57.60 489.83,55.44 492.41,53.24 495.00,51.00 497.59,48.73 500.18,46.41 502.76,44.06 505.35,41.67 507.94,39.23 510.53,36.77 513.11,34.26 515.70,31.71 518.29,29.13 520.88,26.50 523.47,23.84 526.05,21.14 528.64,18.40" fill="none" stroke="#ff2424" stroke-width="1.25" stroke-dasharray="2.3,2.1"/>
<line x1="261.2" y1="153.8" x2="261.2" y2="253.4" stroke="#848484" stroke-width="1.4"/>
<line x1="261.2" y1="249.40" x2="263.09999999999997" y2="249.40" stroke="#444" stroke-width="0.9"/>
<text x="259.7" y="252.40" class="tk" text-anchor="end">0</text>
<line x1="261.2" y1="208.05" x2="263.09999999999997" y2="208.05" stroke="#444" stroke-width="0.9"/>
<text x="259.7" y="211.05" class="tk" text-anchor="end">10</text>
<line x1="261.2" y1="166.70" x2="263.09999999999997" y2="166.70" stroke="#444" stroke-width="0.9"/>
<text x="259.7" y="169.70" class="tk" text-anchor="end">20</text>
<line x1="260.5" y1="253.4" x2="383.3" y2="253.4" stroke="#848484" stroke-width="1.4"/>
<line x1="271.60" y1="253.4" x2="271.60" y2="251.5" stroke="#444" stroke-width="0.9"/>
<text x="271.60" y="263.8" class="tk" text-anchor="middle">0</text>
<line x1="322.30" y1="253.4" x2="322.30" y2="251.5" stroke="#444" stroke-width="0.9"/>
<text x="322.30" y="263.8" class="tk" text-anchor="middle">25</text>
<line x1="373.00" y1="253.4" x2="373.00" y2="251.5" stroke="#444" stroke-width="0.9"/>
<text x="373.00" y="263.8" class="tk" text-anchor="middle">50</text>
<text x="257.4" y="279.5" class="ti" textLength="131.4" lengthAdjust="spacingAndGlyphs">Concentration (<tspan font-weight="normal">μ</tspan>M)</text>
<text x="267.5" y="174.5" class="lt">E</text>
<line x1="302.0" y1="222.3" x2="302.0" y2="227.5" stroke="#222" stroke-width="0.8"/>
<line x1="301.1" y1="222.3" x2="302.9" y2="222.3" stroke="#222" stroke-width="1"/>
<line x1="301.1" y1="227.5" x2="302.9" y2="227.5" stroke="#222" stroke-width="1"/>
<line x1="312.2" y1="213.5" x2="312.2" y2="219.1" stroke="#222" stroke-width="0.8"/>
<line x1="311.3" y1="213.5" x2="313.1" y2="213.5" stroke="#222" stroke-width="1"/>
<line x1="311.3" y1="219.1" x2="313.1" y2="219.1" stroke="#222" stroke-width="1"/>
<line x1="322.3" y1="205.3" x2="322.3" y2="212.1" stroke="#222" stroke-width="0.8"/>
<line x1="321.4" y1="205.3" x2="323.2" y2="205.3" stroke="#222" stroke-width="1"/>
<line x1="321.4" y1="212.1" x2="323.2" y2="212.1" stroke="#222" stroke-width="1"/>
<line x1="332.4" y1="201.9" x2="332.4" y2="204.3" stroke="#222" stroke-width="0.8"/>
<line x1="331.5" y1="201.9" x2="333.3" y2="201.9" stroke="#222" stroke-width="1"/>
<line x1="331.5" y1="204.3" x2="333.3" y2="204.3" stroke="#222" stroke-width="1"/>
<line x1="362.9" y1="164.6" x2="362.9" y2="182.0" stroke="#222" stroke-width="0.8"/>
<line x1="362.0" y1="164.6" x2="363.8" y2="164.6" stroke="#222" stroke-width="1"/>
<line x1="362.0" y1="182.0" x2="363.8" y2="182.0" stroke="#222" stroke-width="1"/>
<line x1="373.0" y1="162.4" x2="373.0" y2="176.8" stroke="#222" stroke-width="0.8"/>
<line x1="372.1" y1="162.4" x2="373.9" y2="162.4" stroke="#222" stroke-width="1"/>
<line x1="372.1" y1="176.8" x2="373.9" y2="176.8" stroke="#222" stroke-width="1"/>
<circle cx="275.7" cy="242.6" r="2.5" fill="url(#gk)"/>
<circle cx="279.7" cy="238.4" r="2.5" fill="url(#gk)"/>
<circle cx="283.8" cy="237.2" r="2.5" fill="url(#gk)"/>
<circle cx="289.9" cy="231.2" r="2.5" fill="url(#gk)"/>
<circle cx="302.0" cy="224.9" r="2.5" fill="url(#gk)"/>
<circle cx="312.2" cy="216.3" r="2.5" fill="url(#gk)"/>
<circle cx="322.3" cy="208.7" r="2.5" fill="url(#gk)"/>
<circle cx="332.4" cy="203.1" r="2.5" fill="url(#gk)"/>
<circle cx="342.6" cy="187.8" r="2.5" fill="url(#gk)"/>
<circle cx="352.7" cy="184.9" r="2.5" fill="url(#gk)"/>
<circle cx="362.9" cy="173.3" r="2.5" fill="url(#gk)"/>
<circle cx="373.0" cy="169.6" r="2.5" fill="url(#gk)"/>
<polyline points="271.60,246.33 274.33,244.23 277.06,242.14 279.79,240.04 282.52,237.94 285.25,235.84 287.98,233.74 290.71,231.64 293.44,229.55 296.17,227.45 298.90,225.35 301.63,223.25 304.36,221.15 307.09,219.06 309.82,216.96 312.55,214.86 315.28,212.76 318.01,210.66 320.74,208.57 323.47,206.47 326.20,204.37 328.93,202.27 331.66,200.17 334.39,198.08 337.12,195.98 339.85,193.88 342.58,191.78 345.31,189.68 348.04,187.59 350.77,185.49 353.50,183.39 356.23,181.29 358.96,179.19 361.69,177.10 364.42,175.00 367.15,172.90 369.88,170.80 372.61,168.70 375.34,166.60 378.07,164.51" fill="none" stroke="#ff2424" stroke-width="1.25" stroke-dasharray="2.3,2.1"/>
<line x1="414.6" y1="153.1" x2="414.6" y2="253.4" stroke="#848484" stroke-width="1.4"/>
<line x1="414.6" y1="247.00" x2="416.5" y2="247.00" stroke="#444" stroke-width="0.9"/>
<text x="413.1" y="250.00" class="tk" text-anchor="end">0</text>
<line x1="414.6" y1="209.37" x2="416.5" y2="209.37" stroke="#444" stroke-width="0.9"/>
<text x="413.1" y="212.37" class="tk" text-anchor="end">30</text>
<line x1="414.6" y1="171.74" x2="416.5" y2="171.74" stroke="#444" stroke-width="0.9"/>
<text x="413.1" y="174.74" class="tk" text-anchor="end">60</text>
<line x1="413.90000000000003" y1="253.4" x2="537.4" y2="253.4" stroke="#848484" stroke-width="1.4"/>
<line x1="424.40" y1="253.4" x2="424.40" y2="251.5" stroke="#444" stroke-width="0.9"/>
<text x="424.40" y="263.8" class="tk" text-anchor="middle">0</text>
<line x1="475.90" y1="253.4" x2="475.90" y2="251.5" stroke="#444" stroke-width="0.9"/>
<text x="475.90" y="263.8" class="tk" text-anchor="middle">25</text>
<line x1="527.40" y1="253.4" x2="527.40" y2="251.5" stroke="#444" stroke-width="0.9"/>
<text x="527.40" y="263.8" class="tk" text-anchor="middle">50</text>
<text x="410.8" y="279.5" class="ti" textLength="131.4" lengthAdjust="spacingAndGlyphs">Concentration (<tspan font-weight="normal">μ</tspan>M)</text>
<text x="420.3" y="175.0" class="lt">F</text>
<line x1="486.2" y1="195.9" x2="486.2" y2="203.3" stroke="#1010ff" stroke-width="0.8"/>
<line x1="485.3" y1="195.9" x2="487.1" y2="195.9" stroke="#1010ff" stroke-width="1"/>
<line x1="485.3" y1="203.3" x2="487.1" y2="203.3" stroke="#1010ff" stroke-width="1"/>
<line x1="517.1" y1="160.4" x2="517.1" y2="184.0" stroke="#1010ff" stroke-width="0.8"/>
<line x1="516.2" y1="160.4" x2="518.0" y2="160.4" stroke="#1010ff" stroke-width="1"/>
<line x1="516.2" y1="184.0" x2="518.0" y2="184.0" stroke="#1010ff" stroke-width="1"/>
<line x1="527.4" y1="160.8" x2="527.4" y2="178.0" stroke="#1010ff" stroke-width="0.8"/>
<line x1="526.5" y1="160.8" x2="528.3" y2="160.8" stroke="#1010ff" stroke-width="1"/>
<line x1="526.5" y1="178.0" x2="528.3" y2="178.0" stroke="#1010ff" stroke-width="1"/>
<circle cx="428.5" cy="244.2" r="2.5" fill="url(#gb)"/>
<circle cx="432.6" cy="241.4" r="2.5" fill="url(#gb)"/>
<circle cx="436.8" cy="239.0" r="2.5" fill="url(#gb)"/>
<circle cx="442.9" cy="235.3" r="2.5" fill="url(#gb)"/>
<circle cx="455.3" cy="227.2" r="2.5" fill="url(#gb)"/>
<circle cx="465.6" cy="219.5" r="2.5" fill="url(#gb)"/>
<circle cx="475.9" cy="208.6" r="2.5" fill="url(#gb)"/>
<circle cx="486.2" cy="199.6" r="2.5" fill="url(#gb)"/>
<circle cx="496.5" cy="190.9" r="2.5" fill="url(#gb)"/>
<circle cx="506.8" cy="184.8" r="2.5" fill="url(#gb)"/>
<circle cx="517.1" cy="172.2" r="2.5" fill="url(#gb)"/>
<circle cx="527.4" cy="169.4" r="2.5" fill="url(#gb)"/>
<polyline points="427.49,245.18 430.12,243.42 432.75,241.64 435.38,239.85 438.01,238.03 440.64,236.19 443.27,234.34 445.90,232.46 448.53,230.56 451.16,228.64 453.79,226.71 456.43,224.75 459.06,222.77 461.69,220.77 464.32,218.75 466.95,216.71 469.58,214.65 472.21,212.57 474.84,210.48 477.47,208.36 480.10,206.21 482.73,204.05 485.36,201.87 487.99,199.67 490.62,197.45 493.25,195.21 495.88,192.95 498.51,190.67 501.14,188.36 503.77,186.04 506.40,183.70 509.03,181.34 511.66,178.95 514.30,176.55 516.93,174.13 519.56,171.68 522.19,169.22 524.82,166.74 527.45,164.23 530.08,161.71" fill="none" stroke="#ff2424" stroke-width="1.25" stroke-dasharray="2.3,2.1"/>
</svg>
</body></html>
